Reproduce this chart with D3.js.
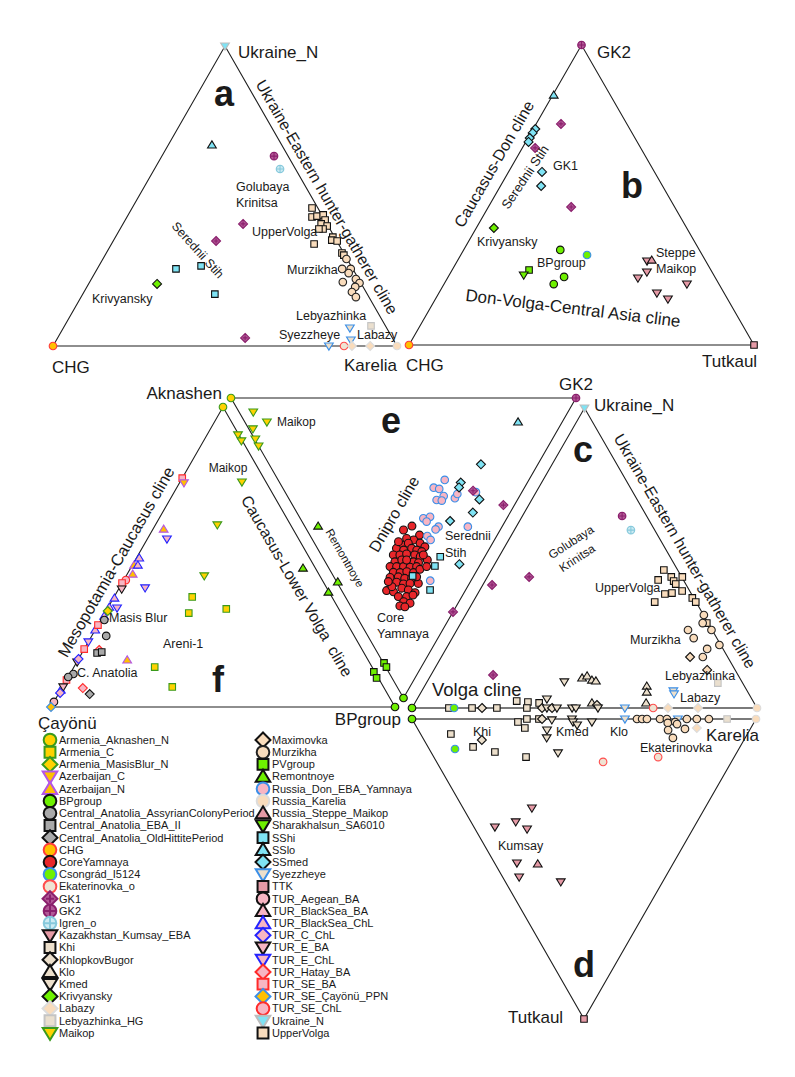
<!DOCTYPE html>
<html>
<head>
<meta charset="utf-8">
<title>Ternary clines</title>
<script src="https://d3js.org/d3.v7.min.js"></script>
<style>
  body { margin: 0; background: #fff; }
  svg text { font-family: "Liberation Sans", Arial, sans-serif; fill: #1a1a1a; white-space: pre; }
</style>
</head>
<body>
<div id="chart"></div>
<script>
// ---------------- data ----------------
// legend, in the order of the two columns
const legendLeft = ["Armenia_Aknashen_N","Armenia_C","Armenia_MasisBlur_N","Azerbaijan_C","Azerbaijan_N",
  "BPgroup","Central_Anatolia_AssyrianColonyPeriod","Central_Anatolia_EBA_II","Central_Anatolia_OldHittitePeriod",
  "CHG","CoreYamnaya","Csongrád_I5124","Ekaterinovka_o","GK1","GK2","Igren_o","Kazakhstan_Kumsay_EBA","Khi",
  "KhlopkovBugor","Klo","Kmed","Krivyansky","Labazy","Lebyazhinka_HG","Maikop"];
const legendRight = ["Maximovka","Murzikha","PVgroup","Remontnoye","Russia_Don_EBA_Yamnaya","Russia_Karelia",
  "Russia_Steppe_Maikop","Sharakhalsun_SA6010","SShi","SSlo","SSmed","Syezzheye","TTK","TUR_Aegean_BA",
  "TUR_BlackSea_BA","TUR_BlackSea_ChL","TUR_C_ChL","TUR_E_BA","TUR_E_ChL","TUR_Hatay_BA","TUR_SE_BA",
  "TUR_SE_Çayönü_PPN","TUR_SE_ChL","Ukraine_N","UpperVolga"];

// each point: [group, share of apex source, share of right source]
// a: apex Ukraine_N, left CHG, right Karelia
const pointsA = [
  ["SSlo",0.67,0.127],["GK2",0.633,0.326],["Igren_o",0.59,0.365],
  ["GK1",0.407,0.349],["GK1",0.35,0.299],["GK1",0.027,0.545],
  ["SShi",0.257,0.229],["SShi",0.267,0.297],["SShi",0.173,0.384],["Krivyansky",0.207,0.199],
  ["UpperVolga",0.46,0.523],["UpperVolga",0.43,0.538],["UpperVolga",0.433,0.551],["UpperVolga",0.437,0.567],
  ["UpperVolga",0.42,0.581],["UpperVolga",0.407,0.576],["UpperVolga",0.4,0.597],["UpperVolga",0.39,0.59],
  ["UpperVolga",0.39,0.578],["UpperVolga",0.363,0.632],["UpperVolga",0.353,0.634],["UpperVolga",0.35,0.651],
  ["UpperVolga",0.34,0.589],["UpperVolga",0.31,0.685],["UpperVolga",0.303,0.694],
  ["Murzikha",0.29,0.708],["Murzikha",0.257,0.712],["Murzikha",0.257,0.737],["Murzikha",0.243,0.738],
  ["Murzikha",0.213,0.736],["Murzikha",0.223,0.769],["Murzikha",0.21,0.786],["Murzikha",0.197,0.78],
  ["Murzikha",0.18,0.779],["Murzikha",0.163,0.799],
  ["Lebyazhinka_HG",0.067,0.891],["Syezzheye",0.06,0.833],["Syezzheye",0.02,0.856],["Syezzheye",0,0.802],
  ["Ekaterinovka_o",0,0.846],["Labazy",0,0.869],["Labazy",0,0.922],
  ["Ukraine_N",1,0],["CHG",0,0],["Russia_Karelia",0,1]
];
// b: apex GK2, left CHG, right Tutkaul
const pointsB = [
  ["SSlo",0.833,0.003],["SSmed",0.72,0.006],["SSmed",0.707,0.005],["SSmed",0.69,0.005],["SSmed",0.677,0.008],
  ["SSmed",0.577,0.097],["SSmed",0.53,0.118],
  ["GK1",0.737,0.072],["GK1",0.657,0.037],["GK1",0.46,0.24],["Krivyansky",0.39,0.051],
  ["BPgroup",0.317,0.28],["BPgroup",0.227,0.336],["BPgroup",0.203,0.318],["Csongrád_I5124",0.3,0.366],
  ["PVgroup",0.25,0.223],["Sharakhalsun_SA6010",0.233,0.216],
  ["Kazakhstan_Kumsay_EBA",0.28,0.55],["Russia_Steppe_Maikop",0.283,0.562],
  ["Kazakhstan_Kumsay_EBA",0.243,0.568],["Kazakhstan_Kumsay_EBA",0.223,0.552],["Kazakhstan_Kumsay_EBA",0.203,0.704],
  ["Kazakhstan_Kumsay_EBA",0.173,0.632],["Kazakhstan_Kumsay_EBA",0.153,0.674],
  ["GK2",1,0],["CHG",0,0],["TTK",0,1]
];
// f: apex Aknashen, left Çayönü, right BPgroup
const pointsF = [
  ["Maikop",0.907,0.09],["Maikop",0.887,0.11],["Maikop",0.75,0.18],["Maikop",0.607,0.18],["Maikop",0.437,0.227],
  ["Azerbaijan_N",0.593,0.031],["Azerbaijan_N",0.157,0.143],["Azerbaijan_N",0.473,0.005],["Azerbaijan_N",0.443,0.016],
  ["TUR_SE_BA",0.763,0],["Azerbaijan_C",0.747,0.013],
  ["TUR_E_ChL",0.56,0.057],["TUR_E_ChL",0.397,0.075],["TUR_E_ChL",0.33,0.027],["TUR_E_ChL",0.217,0],
  ["TUR_BlackSea_ChL",0.497,0.008],["TUR_BlackSea_ChL",0.473,0.016],["TUR_BlackSea_ChL",0.363,0.003],
  ["TUR_BlackSea_ChL",0.333,0.003],["TUR_BlackSea_ChL",0.303,0.003],["TUR_BlackSea_ChL",0.257,0],
  ["TUR_BlackSea_ChL",0.057,0],["TUR_SE_ChL",0.423,0.006],["TUR_SE_BA",0.413,0],["TUR_SE_BA",0.273,0],
  ["TUR_SE_BA",0.193,0],["TUR_SE_BA",0.09,0],
  ["TUR_E_BA",0.393,0.009],["TUR_E_BA",0.15,0.001],["TUR_E_BA",0.067,0.002],
  ["Armenia_MasisBlur_N",0.32,0.005],
  ["Central_Anatolia_AssyrianColonyPeriod",0.29,0.01],["Central_Anatolia_AssyrianColonyPeriod",0.237,0.042],
  ["Central_Anatolia_AssyrianColonyPeriod",0.11,0.01],["Central_Anatolia_AssyrianColonyPeriod",0.1,0],
  ["TUR_Hatay_BA",0.19,0.045],["TUR_Hatay_BA",0.063,0.061],
  ["Central_Anatolia_EBA_II",0.18,0.044],["Central_Anatolia_EBA_II",0.183,0.056],
  ["TUR_C_ChL",0.16,0],["TUR_C_ChL",0.047,0.003],["Central_Anatolia_OldHittitePeriod",0.043,0.091],
  ["TUR_Aegean_BA",0.017,0],
  ["Armenia_C",0.367,0.227],["Armenia_C",0.313,0.244],["Armenia_C",0.327,0.346],["Armenia_C",0.133,0.235],
  ["Armenia_C",0.067,0.319],
  ["Remontnoye",0.463,0.501],["Remontnoye",0.383,0.615],["PVgroup",0.117,0.88],["PVgroup",0.097,0.898],
  ["Armenia_Aknashen_N",1,0],["TUR_SE_Çayönü_PPN",0,0],["BPgroup",0,1]
];
// e: apex BPgroup, left Aknashen, right GK2
const pointsE = [
  ["CoreYamnaya",0.427,0.311],["CoreYamnaya",0.44,0.28],["CoreYamnaya",0.457,0.318],["CoreYamnaya",0.473,0.293],
  ["CoreYamnaya",0.468,0.275],["CoreYamnaya",0.49,0.25],["CoreYamnaya",0.484,0.272],["CoreYamnaya",0.484,0.306],
  ["CoreYamnaya",0.496,0.314],["CoreYamnaya",0.501,0.229],["CoreYamnaya",0.507,0.247],["CoreYamnaya",0.501,0.273],
  ["CoreYamnaya",0.507,0.285],["CoreYamnaya",0.512,0.297],["CoreYamnaya",0.523,0.209],["CoreYamnaya",0.523,0.228],
  ["CoreYamnaya",0.52,0.249],["CoreYamnaya",0.523,0.271],["CoreYamnaya",0.529,0.284],["CoreYamnaya",0.54,0.299],
  ["CoreYamnaya",0.546,0.202],["CoreYamnaya",0.54,0.225],["CoreYamnaya",0.546,0.241],["CoreYamnaya",0.546,0.256],
  ["CoreYamnaya",0.549,0.269],["CoreYamnaya",0.562,0.18],["CoreYamnaya",0.562,0.199],["CoreYamnaya",0.562,0.219],
  ["CoreYamnaya",0.564,0.237],["CoreYamnaya",0.562,0.257],["CoreYamnaya",0.581,0.18],["CoreYamnaya",0.582,0.199],
  ["CoreYamnaya",0.579,0.22],["CoreYamnaya",0.582,0.238],["CoreYamnaya",0.571,0.262],["CoreYamnaya",0.598,0.162],
  ["CoreYamnaya",0.596,0.187],["CoreYamnaya",0.601,0.203],["CoreYamnaya",0.601,0.223],["CoreYamnaya",0.618,0.234],
  ["CoreYamnaya",0.614,0.173],["CoreYamnaya",0.62,0.19],["CoreYamnaya",0.618,0.21],["CoreYamnaya",0.642,0.13],
  ["CoreYamnaya",0.646,0.148],["CoreYamnaya",0.634,0.178],["CoreYamnaya",0.64,0.194],["CoreYamnaya",0.649,0.209],
  ["CoreYamnaya",0.662,0.154],["CoreYamnaya",0.662,0.178],["CoreYamnaya",0.657,0.199],["CoreYamnaya",0.679,0.161],
  ["CoreYamnaya",0.684,0.177],["CoreYamnaya",0.693,0.143],["CoreYamnaya",0.696,0.156],["CoreYamnaya",0.629,0.152],
  ["CoreYamnaya",0.523,0.296],["CoreYamnaya",0.479,0.246],["CoreYamnaya",0.562,0.286],["CoreYamnaya",0.596,0.24],
  ["CoreYamnaya",0.612,0.15],["CoreYamnaya",0.54,0.239],
  ["Russia_Don_EBA_Yamnaya",0.273,0.483],["Russia_Don_EBA_Yamnaya",0.299,0.438],["Russia_Don_EBA_Yamnaya",0.303,0.452],
  ["Russia_Don_EBA_Yamnaya",0.327,0.453],["Russia_Don_EBA_Yamnaya",0.34,0.426],["Russia_Don_EBA_Yamnaya",0.342,0.44],
  ["Russia_Don_EBA_Yamnaya",0.334,0.482],["Russia_Don_EBA_Yamnaya",0.32,0.496],["Russia_Don_EBA_Yamnaya",0.314,0.553],
  ["Russia_Don_EBA_Yamnaya",0.401,0.357],["Russia_Don_EBA_Yamnaya",0.396,0.379],["Russia_Don_EBA_Yamnaya",0.412,0.361],
  ["Russia_Don_EBA_Yamnaya",0.429,0.387],["Russia_Don_EBA_Yamnaya",0.438,0.374],["Russia_Don_EBA_Yamnaya",0.46,0.339],
  ["Russia_Don_EBA_Yamnaya",0.473,0.342],["Russia_Don_EBA_Yamnaya",0.429,0.472],["Russia_Don_EBA_Yamnaya",0.609,0.273],
  ["SSmed",0.221,0.614],["SSmed",0.282,0.525],["SSmed",0.298,0.512],["SSmed",0.338,0.551],["SSmed",0.382,0.51],
  ["SSmed",0.41,0.43],["SSmed",0.554,0.385],
  ["SShi",0.529,0.342],["SShi",0.56,0.311],["SShi",0.593,0.23],["SShi",0.64,0.257],
  ["GK1",0.309,0.547],["GK1",0.357,0.611],["GK1",0.713,0.287],
  ["SSlo",0.08,0.792],
  ["Maikop",0.047,0.041],["Maikop",0.08,0.064],["Maikop",0.103,0.012],["Maikop",0.137,0.002],["Maikop",0.16,0],
  ["Remontnoye",0.613,0.003],["Remontnoye",0.427,0.039],["PVgroup",0.883,0.002],["PVgroup",0.897,0.002],
  ["Armenia_Aknashen_N",0,0],["GK2",0,1],["BPgroup",1,0]
];
// c: apex Ukraine_N, left BPgroup, right Karelia
const pointsC = [
  ["GK2",0.64,0.289],["Igren_o",0.593,0.338],["GK1",0.437,0.121],["GK1",0.41,0.027],["GK1",0.11,0.18],
  ["UpperVolga",0.46,0.5],["UpperVolga",0.437,0.533],["UpperVolga",0.427,0.5],["UpperVolga",0.423,0.547],
  ["UpperVolga",0.437,0.565],["UpperVolga",0.413,0.558],["UpperVolga",0.39,0.588],["UpperVolga",0.383,0.562],
  ["UpperVolga",0.38,0.543],["UpperVolga",0.353,0.527],["UpperVolga",0.367,0.629],["UpperVolga",0.353,0.646],
  ["UpperVolga",0.283,0.713],
  ["Murzikha",0.31,0.691],["Murzikha",0.283,0.701],["Murzikha",0.26,0.67],["Murzikha",0.233,0.7],
  ["Murzikha",0.26,0.738],["Murzikha",0.21,0.786],["Murzikha",0.197,0.757],["Murzikha",0.17,0.758],
  ["Maximovka",0.17,0.721],["Maximovka",0.127,0.792],["Lebyazhinka_HG",0.083,0.845],
  ["Syezzheye",0.057,0.729],["Syezzheye",0.047,0.736],
  ["Kmed",0.087,0.398],["Klo",0.1,0.443],["Klo",0.107,0.454],["Klo",0.093,0.475],["Klo",0.09,0.488],
  ["Klo",0.073,0.644],["Klo",0.053,0.654],["Klo",0.017,0.67],
  ["Khi",0,0.107],["Csongrád_I5124",0,0.122],["Khi",0,0.174],["KhlopkovBugor",0,0.203],["Khi",0,0.246],
  ["Khi",0.023,0.292],["Khi",0.02,0.326],["Khi",0,0.333],["Khi",0.017,0.36],["KhlopkovBugor",0,0.377],
  ["Kmed",0.03,0.376],["Kmed",0,0.391],["KhlopkovBugor",0,0.406],["Kmed",0,0.42],["Kmed",0,0.464],
  ["Kmed",0,0.475],["Klo",0.017,0.513],["KhlopkovBugor",0.01,0.531],["Kmed",0,0.539],["Syezzheye",0,0.617],
  ["Ekaterinovka_o",0,0.699],["Labazy",0,0.742],["Labazy",0,0.829],
  ["Ukraine_N",1,0],["BPgroup",0,0],["Russia_Karelia",0,1]
];
// d: apex Tutkaul, left BPgroup, right Karelia
const pointsD = [
  ["Khi",0.01,0.303],["Khi",0,0.334],["Khi",0.03,0.313],["Khi",0,0.369],["Khi",0.05,0.088],["Khi",0.093,0.131],
  ["Khi",0.11,0.186],["Khi",0.127,0.268],["KhlopkovBugor",0,0.378],["KhlopkovBugor",0.07,0.168],
  ["Kmed",0.003,0.405],["Kmed",0,0.465],["Kmed",0.01,0.463],["Kmed",0.02,0.47],["Kmed",0.037,0.374],
  ["Kmed",0.063,0.36],["Kmed",0.01,0.518],["Kmed",0.113,0.368],
  ["Syezzheye",0,0.619],["Syezzheye",0,0.773],
  ["Murzikha",0,0.654],["Murzikha",0,0.669],["Murzikha",0,0.683],["Murzikha",0,0.721],["Murzikha",0,0.741],
  ["Murzikha",0,0.799],["Murzikha",0,0.828],["Murzikha",0,0.863],["Murzikha",0.013,0.737],["Murzikha",0.01,0.76],
  ["Murzikha",0.037,0.726],["Murzikha",0.033,0.777],["Murzikha",0.063,0.727],["Murzikha",0.017,0.762],
  ["Labazy",0.03,0.813],["Lebyazhinka_HG",0,0.916],["Csongrád_I5124",0.1,0.075],
  ["Ekaterinovka_o",0.143,0.484],["Ekaterinovka_o",0.127,0.652],
  ["Kazakhstan_Kumsay_EBA",0.297,0.2],["Kazakhstan_Kumsay_EBA",0.343,0.13],["Kazakhstan_Kumsay_EBA",0.36,0.061],
  ["Kazakhstan_Kumsay_EBA",0.367,0.151],["Kazakhstan_Kumsay_EBA",0.48,0.065],["Kazakhstan_Kumsay_EBA",0.527,0.048],
  ["Kazakhstan_Kumsay_EBA",0.543,0.161],["Russia_Steppe_Maikop",0.483,0.124],
  ["TTK",1,0],["BPgroup",0,0],["Russia_Karelia",0,1]
];

// ---------------- styles ----------------
const Y = "#ffd200", G = "#3a9a1c", LIME = "#6ef000", ORG = "#ffc000", PUR = "#b455e6", GRAY = "#a9a9a9",
      RED = "#e8262a", BLUE = "#3b8fe8", GKP = "#8a1f6c", PINK = "#e59aa6", BEIGE = "#ecdfcb",
      PEACH = "#f9dcbc", CYAN = "#7fe3f4", TPINK = "#f7b5c3", TBLUE = "#2323ff", TRED = "#ff2a2a", K = "#111";
const styles = {
  "Armenia_Aknashen_N": ["circle", Y, G], "Armenia_C": ["square", Y, G], "Armenia_MasisBlur_N": ["diamond", Y, G],
  "Azerbaijan_C": ["triDown", ORG, PUR], "Azerbaijan_N": ["triUp", ORG, PUR], "BPgroup": ["circle", LIME, K],
  "Central_Anatolia_AssyrianColonyPeriod": ["circle", GRAY, K], "Central_Anatolia_EBA_II": ["square", GRAY, K],
  "Central_Anatolia_OldHittitePeriod": ["diamond", GRAY, K], "CHG": ["circle", ORG, "#ff3b3b"],
  "CoreYamnaya": ["circle", RED, K], "Csongrád_I5124": ["circle", LIME, BLUE],
  "Ekaterinovka_o": ["circle", "#efe3d3", "#ff4d4d"], "GK1": ["diamondPlus", "#b25896", GKP],
  "GK2": ["circlePlus", "#b25896", GKP], "Igren_o": ["circlePlus", "#cdebf3", "#86c9dc"],
  "Kazakhstan_Kumsay_EBA": ["triDown", PINK, K], "Khi": ["square", BEIGE, K], "KhlopkovBugor": ["diamond", BEIGE, K],
  "Klo": ["triUp", BEIGE, K], "Kmed": ["triDown", BEIGE, K], "Krivyansky": ["diamond", LIME, K],
  "Labazy": ["diamond", PEACH, "#dcdcdc"], "Lebyazhinka_HG": ["square", "#eadfce", "#c4c4c4"],
  "Maikop": ["triDown", Y, G], "Maximovka": ["diamond", PEACH, K], "Murzikha": ["circle", PEACH, "#222"],
  "PVgroup": ["square", LIME, K], "Remontnoye": ["triUp", LIME, K], "Russia_Don_EBA_Yamnaya": ["circle", TPINK, BLUE],
  "Russia_Karelia": ["circle", PEACH, "#dcdcdc"], "Russia_Steppe_Maikop": ["triUp", PINK, K],
  "Sharakhalsun_SA6010": ["triDown", LIME, K], "SShi": ["square", CYAN, K], "SSlo": ["triUp", CYAN, K],
  "SSmed": ["diamond", CYAN, K], "Syezzheye": ["triDown", BEIGE, BLUE], "TTK": ["square", PINK, K],
  "TUR_Aegean_BA": ["circle", TPINK, K], "TUR_BlackSea_BA": ["triUp", TPINK, K],
  "TUR_BlackSea_ChL": ["triUp", TPINK, TBLUE], "TUR_C_ChL": ["diamond", TPINK, TBLUE],
  "TUR_E_BA": ["triDown", TPINK, K], "TUR_E_ChL": ["triDown", TPINK, TBLUE], "TUR_Hatay_BA": ["diamond", TPINK, TRED],
  "TUR_SE_BA": ["square", TPINK, TRED], "TUR_SE_Çayönü_PPN": ["diamond", ORG, BLUE],
  "TUR_SE_ChL": ["circle", TPINK, TRED], "Ukraine_N": ["triDown", CYAN, "#bdbdbd"], "UpperVolga": ["square", PEACH, K]
};

// symbol types; size = diameter squared
const shapeTypes = {
  circle: { draw(c, s) { const r = Math.sqrt(s) / 2; c.moveTo(r, 0); c.arc(0, 0, r, 0, 2 * Math.PI); } },
  square: { draw(c, s) { const r = Math.sqrt(s) / 2 * 0.86; c.rect(-r, -r, 2 * r, 2 * r); } },
  diamond: { draw(c, s) { const r = Math.sqrt(s) / 2 * 1.18; c.moveTo(0, -r); c.lineTo(r, 0); c.lineTo(0, r); c.lineTo(-r, 0); c.closePath(); } },
  triUp: { draw(c, s) { const r = Math.sqrt(s) / 2 * 1.15; c.moveTo(0, -r * 0.95); c.lineTo(r, r * 0.7); c.lineTo(-r, r * 0.7); c.closePath(); } },
  triDown: { draw(c, s) { const r = Math.sqrt(s) / 2 * 1.15; c.moveTo(0, r * 0.95); c.lineTo(r, -r * 0.7); c.lineTo(-r, -r * 0.7); c.closePath(); } },
  circlePlus: { draw(c, s) { const r = Math.sqrt(s) / 2; c.moveTo(r, 0); c.arc(0, 0, r, 0, 2 * Math.PI);
    c.moveTo(-r, 0); c.lineTo(r, 0); c.moveTo(0, -r); c.lineTo(0, r); } },
  diamondPlus: { draw(c, s) { const r = Math.sqrt(s) / 2 * 1.18; c.moveTo(0, -r); c.lineTo(r, 0); c.lineTo(0, r); c.lineTo(-r, 0); c.closePath();
    c.moveTo(-r * 0.55, 0); c.lineTo(r * 0.55, 0); c.moveTo(0, -r * 0.55); c.lineTo(0, r * 0.55); } }
};

// ---------------- layout ----------------
const panels = [
  { apex: [225, 46], left: [53, 346], right: [397, 346], pts: pointsA },
  { apex: [581.5, 45], left: [409, 345], right: [754, 345], pts: pointsB },
  { apex: [223, 407], left: [51, 707], right: [395, 707], pts: pointsF },
  { apex: [403.5, 698], left: [231, 398], right: [576, 398], pts: pointsE },
  { apex: [584.5, 408], left: [412, 708], right: [757, 708], pts: pointsC, base: "#7a7a7a" },
  { apex: [584, 1019], left: [412, 719], right: [756, 719], pts: pointsD, base: "#7a7a7a" }
];

const svg = d3.select("#chart").append("svg").attr("width", 795).attr("height", 1077);
const line = d3.line();
const marker = d3.symbol();

panels.forEach(p => {
  const x = d3.scaleLinear().domain([0, 1]).range([p.left[0], p.right[0]]);
  const y = d3.scaleLinear().domain([0, 1]).range([p.left[1], p.apex[1]]);
  p.proj = (t, r) => [x(r + t / 2), y(t)];
});

const gEdges = svg.append("g");
panels.forEach(p => {
  gEdges.append("path")
    .attr("d", line([p.proj(0, 0), p.proj(1, 0), p.proj(0, 1)]))
    .attr("fill", "none").attr("stroke", "#1f1f1f").attr("stroke-width", 1.1);
  gEdges.append("path")
    .attr("d", line([p.proj(0, 0), p.proj(0, 1)]))
    .attr("fill", "none").attr("stroke", p.base || "#1f1f1f").attr("stroke-width", p.base ? 2 : 1.1);
});

const gPts = svg.append("g");
panels.forEach(p => {
  gPts.append("g").selectAll("path").data(p.pts).join("path")
    .attr("transform", d => { const [px, py] = p.proj(d[1], d[2]); return `translate(${px},${py})`; })
    .attr("d", d => marker.type(shapeTypes[styles[d[0]][0]]).size(d[0] === "CoreYamnaya" ? 62 : 58)())
    .attr("fill", d => styles[d[0]][1])
    .attr("stroke", d => styles[d[0]][2])
    .attr("stroke-width", 1.1);
});

// ---------------- labels ----------------
const labels = [
  // a
  { t: "Ukraine_N", x: 238, y: 52, s: 17 }, { t: "a", x: 224, y: 93, s: 36, b: 1, a: "middle" },
  { t: "Ukraine-Eastern hunter-gatherer cline", x: 327, y: 197, s: 16, r: 60, a: "middle" },
  { t: "Golubaya", x: 236, y: 187 }, { t: "Krinitsa", x: 236, y: 203 }, { t: "UpperVolga", x: 252, y: 232 },
  { t: "Serednii Stih", x: 198, y: 250, s: 12.5, r: 48, a: "middle" }, { t: "Krivyansky", x: 92, y: 299 },
  { t: "Murzikha", x: 287, y: 270 }, { t: "Lebyazhinka", x: 296, y: 316 }, { t: "Syezzheye", x: 279, y: 335 },
  { t: "Labazy", x: 357, y: 335 }, { t: "CHG", x: 52, y: 367, s: 17 }, { t: "Karelia", x: 344, y: 365, s: 17 },
  // b
  { t: "GK2", x: 597, y: 52, s: 17 }, { t: "b", x: 632, y: 185, s: 36, b: 1, a: "middle" },
  { t: "Caucasus-Don cline", x: 494, y: 164, s: 16, r: -60, a: "middle" },
  { t: "Serednii Stih", x: 525, y: 177, s: 13, r: -56, a: "middle" }, { t: "GK1", x: 553, y: 166 },
  { t: "Krivyansky", x: 477, y: 242 }, { t: "BPgroup", x: 537, y: 263 }, { t: "Steppe", x: 656, y: 253 },
  { t: "Maikop", x: 656, y: 269 }, { t: "Don-Volga-Central Asia cline", x: 573, y: 308, s: 17, r: 7, a: "middle" },
  { t: "CHG", x: 406, y: 365, s: 17 }, { t: "Tutkaul", x: 702, y: 361, s: 17 },
  // e / f
  { t: "Aknashen", x: 222, y: 393, s: 17, a: "end" }, { t: "Maikop", x: 277, y: 422, s: 12 },
  { t: "e", x: 391, y: 420, s: 36, b: 1, a: "middle" }, { t: "Maikop", x: 228, y: 468, s: 12, a: "middle" },
  { t: "Mesopotamia-Caucasus cline", x: 116, y: 562, s: 16.5, r: -60, a: "middle" },
  { t: "Caucasus-Lower Volga  cline", x: 297, y: 586, s: 16, r: 60, a: "middle" },
  { t: "Remontnoye", x: 345, y: 558, s: 11.5, r: 60, a: "middle" },
  { t: "Dnipro cline", x: 394, y: 514, s: 16, r: -60, a: "middle" },
  { t: "Serednii", x: 445, y: 536 }, { t: "Stih", x: 445, y: 553 }, { t: "Core", x: 377, y: 618 },
  { t: "Yamnaya", x: 377, y: 634 }, { t: "Masis Blur", x: 109, y: 618 }, { t: "Areni-1", x: 163, y: 644 },
  { t: "C. Anatolia", x: 77, y: 673 }, { t: "f", x: 218, y: 679, s: 36, b: 1, a: "middle" },
  { t: "Çayönü", x: 38, y: 723, s: 17 }, { t: "BPgroup", x: 401, y: 719, s: 17, a: "end" },
  // c
  { t: "GK2", x: 576, y: 384, s: 17, a: "middle" }, { t: "Ukraine_N", x: 594, y: 405, s: 17 },
  { t: "c", x: 583, y: 449, s: 36, b: 1, a: "middle" },
  { t: "Ukraine-Eastern hunter-gatherer cline", x: 685, y: 551, s: 16, r: 60, a: "middle" },
  { t: "Golubaya", x: 571, y: 542, s: 12, r: -33, a: "middle" }, { t: "Krinitsa", x: 577, y: 558, s: 12, r: -33, a: "middle" },
  { t: "UpperVolga", x: 595, y: 588 }, { t: "Murzikha", x: 630, y: 640 }, { t: "Lebyazhinka", x: 665, y: 676 },
  { t: "Labazy", x: 680, y: 698 }, { t: "Volga cline", x: 432, y: 690, s: 18.5 },
  // d
  { t: "Khi", x: 473, y: 732 }, { t: "Kmed", x: 556, y: 732 }, { t: "Klo", x: 610, y: 732 },
  { t: "Ekaterinovka", x: 640, y: 748 }, { t: "Karelia", x: 706, y: 735, s: 17 }, { t: "Kumsay", x: 498, y: 846 },
  { t: "d", x: 584, y: 964, s: 36, b: 1, a: "middle" }, { t: "Tutkaul", x: 508, y: 1017, s: 17 }
];

svg.append("g").selectAll("text").data(labels).join("text")
  .attr("transform", d => `translate(${d.x},${d.y}) rotate(${d.r || 0})`)
  .attr("dy", "0.35em")
  .attr("text-anchor", d => d.a || "start")
  .attr("font-size", d => (d.s || 12.5) + "px")
  .attr("font-weight", d => d.b ? "bold" : "normal")
  .text(d => d.t);

// ---------------- legend ----------------
const rowY = d3.scaleLinear().domain([0, 24]).range([740, 1033]);
[[legendLeft, 50], [legendRight, 263]].forEach(([names, x0]) => {
  const g = svg.append("g");
  g.selectAll("text").data(names).join("text")
    .attr("x", x0 + 9).attr("y", (d, i) => rowY(i)).attr("dy", "0.35em")
    .attr("font-size", "11px").text(d => d);
  g.selectAll("path").data(names).join("path")
    .attr("transform", (d, i) => `translate(${x0},${rowY(i)})`)
    .attr("d", d => marker.type(shapeTypes[styles[d][0]]).size(160)())
    .attr("fill", d => styles[d][1])
    .attr("stroke", d => styles[d][2])
    .attr("stroke-width", 2);
});
</script>
</body>
</html>
